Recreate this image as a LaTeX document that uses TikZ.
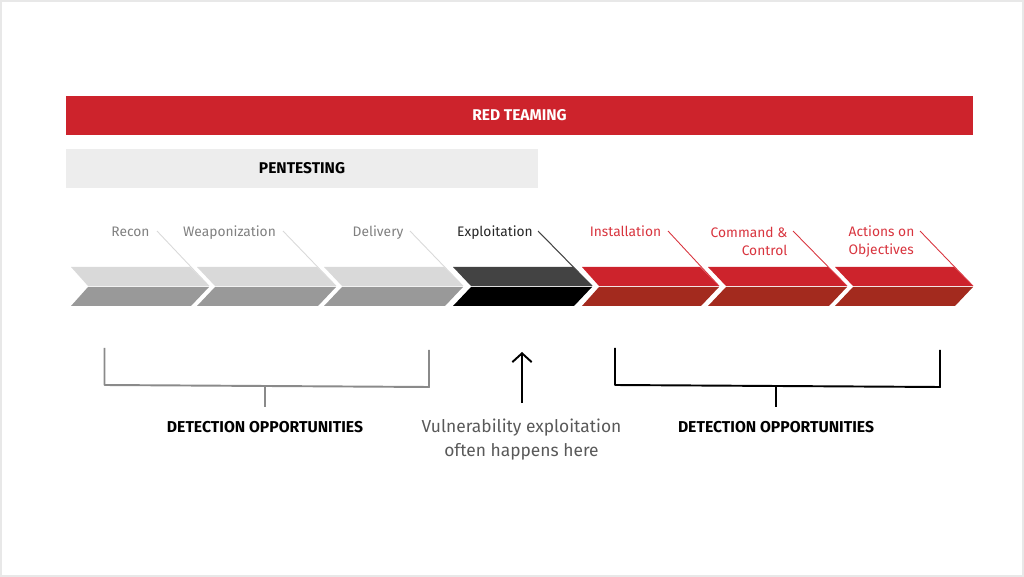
\documentclass[tikz,border=0pt]{standalone}
\usepackage{fontspec}
\setmainfont{Fira Sans}
\usetikzlibrary{arrows.meta}
\definecolor{redbar}{HTML}{CD232C}
\definecolor{redlow}{HTML}{A32A1E}
\definecolor{redtext}{HTML}{D8343E}
\definecolor{greyhigh}{HTML}{D9D9D9}
\definecolor{greylow}{HTML}{999999}
\definecolor{greytext}{HTML}{808080}
\definecolor{darkhigh}{HTML}{434343}
\definecolor{framegrey}{HTML}{E8E8E8}
\definecolor{pentbar}{HTML}{EDEDED}
\tikzset{
	bartext/.style={font=\fontsize{8.85}{9.5}\selectfont\bfseries, minimum height=0.79cm},
	chainlabel/.style={font=\fontsize{7.85}{10.3}\selectfont, anchor=base, align=center},
	chainlabelr/.style={font=\fontsize{7.85}{10.3}\selectfont, align=right},
	detect/.style={font=\fontsize{8.95}{9.5}\selectfont\bfseries, text=black},
	leadergrey/.style={greyhigh, line width=0.5pt},
	leaderdark/.style={darkhigh, line width=0.6pt},
	leaderred/.style={redtext, line width=0.5pt},
	bracegrey/.style={greylow!90!black, line width=1.1pt, line join=round},
	braceblack/.style={black, line width=1.1pt, line join=round}
}
\begin{document}
\begin{tikzpicture}[x=0.02cm,y=0.02cm]
		\tikzstyle{every node}+=[inner sep=0pt]
		\useasboundingbox (0,-577) rectangle (1024,0);
		\draw [framegrey, line width=1pt] (1,-1) rectangle (1023,-576);
		% bars
		\node (redteam) [bartext, fill=redbar, text=white, minimum width=18.14cm] at (519.5,-115.5) {RED TEAMING};
		\node (pentest) [bartext, fill=pentbar, text=black, minimum width=9.44cm] at (302,-168.5) {PENTESTING};
		% chevrons, upper half
		\fill [greyhigh] (71,-267) -- (190,-267) -- (209,-286) -- (88,-286) -- cycle;
		\fill [greyhigh] (197,-267) -- (317,-267) -- (336,-286) -- (215,-286) -- cycle;
		\fill [greyhigh] (324,-267) -- (444,-267) -- (463,-286) -- (342,-286) -- cycle;
		\fill [darkhigh] (453,-267) -- (573,-267) -- (592,-286) -- (471,-286) -- cycle;
		\fill [redbar] (582,-267) -- (700,-267) -- (719,-286) -- (599,-286) -- cycle;
		\fill [redbar] (708,-267) -- (828,-267) -- (847,-286) -- (726,-286) -- cycle;
		\fill [redbar] (835,-267) -- (954,-267) -- (973,-286) -- (853,-286) -- cycle;
		% chevrons, lower half
		\fill [greylow] (88,-287) -- (209,-287) -- (191,-306) -- (71,-306) -- cycle;
		\fill [greylow] (215,-287) -- (336,-287) -- (318,-306) -- (197,-306) -- cycle;
		\fill [greylow] (342,-287) -- (463,-287) -- (445,-306) -- (324,-306) -- cycle;
		\fill [black] (471,-287) -- (592,-287) -- (574,-306) -- (453,-306) -- cycle;
		\fill [redlow] (599,-287) -- (719,-287) -- (701,-306) -- (582,-306) -- cycle;
		\fill [redlow] (726,-287) -- (847,-287) -- (829,-306) -- (708,-306) -- cycle;
		\fill [redlow] (853,-287) -- (973,-287) -- (955,-306) -- (835,-306) -- cycle;
		% leader ends
		\coordinate (recontip) at (209,-286);
		\coordinate (weapontip) at (336,-286);
		\coordinate (delivtip) at (463,-286);
		\coordinate (exploittip) at (592,-286);
		\coordinate (installtip) at (719,-286);
		\coordinate (commandtip) at (847,-286);
		\coordinate (actionstip) at (973,-286);
		\coordinate (reconend) at (157,-231);
		\coordinate (weaponend) at (283,-231);
		\coordinate (delivend) at (410,-231);
		\coordinate (exploitend) at (538,-231);
		\coordinate (installend) at (668,-231);
		\coordinate (commandend) at (793,-231);
		\coordinate (actionsend) at (920,-231);
		\draw [leadergrey] (reconend) -- (recontip);
		\draw [leadergrey] (weaponend) -- (weapontip);
		\draw [leadergrey] (delivend) -- (delivtip);
		\draw [leaderdark] (exploitend) -- (exploittip);
		\draw [leaderred] (installend) -- (installtip);
		\draw [leaderred] (commandend) -- (commandtip);
		\draw [leaderred] (actionsend) -- (actionstip);
		% labels
		\node (recon) [chainlabel, text=greytext] at (130.5,-237) {Recon};
		\node (weapon) [chainlabel, text=greytext] at (229.5,-237) {Weaponization};
		\node (deliv) [chainlabel, text=greytext] at (378,-237) {Delivery};
		\node (exploit) [chainlabel, text=black!85] at (495,-237) {Exploitation};
		\node (install) [chainlabel, text=redtext] at (625.5,-237) {Installation};
		\node (command) [chainlabelr, text=redtext] at (749,-241.5) {Command \&\\Control};
		\node (actions) [chainlabelr, text=redtext, align=left] at (881.5,-241.5) {Actions on\\Objectives};
		% brackets
		\coordinate (greyleft) at (104.5,-348);
		\coordinate (greyright) at (429,-350);
		\coordinate (blackleft) at (615,-348);
		\coordinate (blackright) at (940,-350);
		\draw [bracegrey] (greyleft) -- (104.5,-385) -- (429,-387) -- (greyright);
		\draw [bracegrey] (265,-386) -- (265,-407);
		\draw [braceblack] (blackleft) -- (615,-385) -- (940,-387) -- (blackright);
		\draw [braceblack] (776,-386) -- (776,-407);
		\node (detectgrey) [detect] at (265,-427) {DETECTION OPPORTUNITIES};
		\node (detectblack) [detect] at (776,-427) {DETECTION OPPORTUNITIES};
		% arrow and note
		\node (note) [font=\fontsize{9.9}{14}\selectfont, text=black!65, align=center] at (521.5,-439.5) {Vulnerability exploitation\\often happens here};
		\coordinate (arrowfoot) at (522,-403);
		\coordinate (arrowhead) at (522,-352);
		\draw [-{Straight Barb[length=5pt,width=11pt]}, black, line width=1.1pt] (arrowfoot) -- (arrowhead);
	\end{tikzpicture}
\end{document}
